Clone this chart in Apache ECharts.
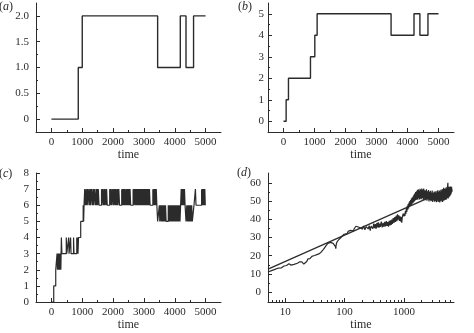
<!DOCTYPE html>
<html>
<head>
<meta charset="utf-8">
<script src="https://cdn.jsdelivr.net/npm/echarts@6/dist/echarts.min.js"></script>
<style>
  html, body { margin: 0; padding: 0; background: #fff; }
  #chart { width: 474px; height: 333px; }
</style>
</head>
<body>
<div id="chart"></div>
<script>
// ---- (a) step trace: time of each change and the level it moves to ----
const aTimes  = [0, 871, 1000, 3445, 4180, 4365, 4610, 5000];
const aValues = [0, 1, 2, 1, 2, 1, 2, 2];

// ---- (b) step trace ----
const bTimes  = [0, 85, 160, 870, 1010, 1085, 3470, 4210, 4400, 4660, 5000];
const bValues = [0, 1, 2, 3, 4, 5, 4, 5, 4, 5, 5];

// ---- (c) fast-switching trace: [time of change, new level] ----
const cSteps = [
  [0,0],[75,1],[140,2],[183,3],[196,2],[206,3],[217,2],[226,3],[238,2],[248,3],[259,2],[270,3],
  [283,2],[293,3],[306,2],[314,3],[323,4],[340,3],[482,4],[497,3],[560,4],[572,3],[622,4],[636,3],
  [718,4],[732,3],[822,4],[836,3],[850,4],[862,3],[878,4],[950,5],[1030,6],[1045,5],[1058,6],
  [1080,7],[1100,6],[1125,7],[1140,6],[1170,7],[1185,6],[1215,7],[1240,6],[1260,7],[1275,6],
  [1300,7],[1330,6],[1350,7],[1365,6],[1390,7],[1420,6],[1445,7],[1460,6],[1480,7],[1500,6],
  [1520,7],[1545,6],[1625,7],[1640,6],[1665,7],[1690,6],[1710,7],[1725,6],[1745,7],[1770,6],
  [1790,7],[1810,6],[1890,7],[1905,6],[1930,7],[1950,6],[1975,7],[2000,6],[2020,7],[2035,6],
  [2060,7],[2080,6],[2100,7],[2120,6],[2145,7],[2160,6],[2185,7],[2210,6],[2280,7],[2295,6],
  [2315,7],[2330,6],[2350,7],[2370,6],[2390,7],[2410,6],[2435,7],[2450,6],[2470,7],[2490,6],
  [2510,7],[2530,6],[2550,7],[2570,6],[2650,7],[2665,6],[2690,7],[2710,6],[2730,7],[2750,6],
  [2770,7],[2790,6],[2810,7],[2830,6],[2850,7],[2870,6],[2890,7],[2900,6],[2920,7],[2935,6],
  [2955,7],[2970,6],[2990,7],[3010,6],[3030,7],[3045,6],[3065,7],[3085,6],[3100,7],[3120,6],
  [3140,7],[3160,6],[3180,7],[3200,6],[3290,7],[3305,6],[3325,7],[3345,6],[3365,7],[3380,6],
  [3400,7],[3420,6],[3445,5],[3500,6],[3515,5],[3540,6],[3560,5],[3580,6],[3600,5],[3620,6],
  [3640,5],[3660,6],[3680,5],[3700,6],[3720,5],[3790,6],[3810,5],[3830,6],[3850,5],[3870,6],
  [3890,5],[3910,6],[3930,5],[3950,6],[3970,5],[3990,6],[4010,5],[4030,6],[4050,5],[4070,6],
  [4090,5],[4110,6],[4130,5],[4150,6],[4170,5],[4190,6],[4210,7],[4225,6],[4240,7],[4260,6],
  [4275,7],[4300,6],[4315,7],[4335,6],[4365,5],[4390,6],[4410,5],[4430,6],[4450,5],[4470,6],
  [4490,5],[4510,6],[4530,5],[4550,6],[4570,5],[4624,6],[4670,7],[4690,6],[4870,7],[4890,6],
  [4905,7],[4925,6],[4940,7],[4960,6],[4975,7],[4990,6],[5000,6]
];

// ---- (d) measured curve on a log time axis: [time, value] ----
const dPoints = [
  [5.1,11.0],[5.5,11.4],[6,11.9],[6.5,12.3],[7,12.6],[7.5,13.1],[8,13.4],[8.5,13.2],[9,13.8],[9.5,14.3],
  [10,14.1],[10.5,14.6],[11,15.2],[11.5,15.5],[12,15.1],[12.5,14.8],[13,15.0],[13.5,14.6],[14,15.2],[14.5,15.6],
  [15,15.3],[16,15.8],[16.5,15.5],[17,16.2],[17.5,16.6],[18,16.3],[18.5,16.9],[19,16.6],[19.5,17.0],[20,16.2],
  [20.5,15.4],[21,15.7],[22,15.9],[23,16.8],[24,18.2],[25,18.8],[26,18.4],[27,19.1],[28,19.6],[29,19.0],
  [30,19.4],[31,20.1],[32,20.4],[33,19.8],[34,20.6],[35,21.2],[36,20.7],[37,21.0],[38,20.4],[39,21.3],
  [40,21.9],[42,22.6],[44,23.5],[46,24.2],[48,25.3],[50,26.2],[52,26.8],[54,27.2],[56,26.6],[58,27.3],
  [60,26.9],[62,26.2],[64,26.8],[66,25.9],[68,26.4],[70,25.0],[71,23.8],[72,26.0],[74,27.4],[76,28.3],
  [78,27.7],[80,28.9],[83,29.6],[86,29.2],[89,30.4],[92,31.2],[95,30.7],[98,31.8],[100,32.4],
  [105,32.9],[110,32.1],[115,33.4],[120,32.8],[125,33.9],[130,33.2],[135,34.1],[140,33.6],[145,34.8],[150,35.3],
  [155,36.2],[160,35.4],[165,36.4],[170,35.8],[175,35.1],[180,35.9],[185,35.2],[190,36.0],[195,35.3],
  [200,34.6],[210,36.3],[220,34.2],[230,36.0],[240,36.8],[250,34.7],[260,36.5],[270,33.8],[280,36.2],[290,37.3],
  [300,34.9],[310,37.6],[320,35.2],[330,37.4],[340,34.8],[350,38.0],[360,35.6],[370,38.3],[380,35.4],[390,37.7],
  [400,35.9],[415,38.7],[430,35.5],[445,38.1],[460,35.8],[475,38.6],[490,36.1],[505,39.0],[520,36.4],[535,38.5],
  [550,35.9],[565,39.2],[580,36.7],[595,39.5],[610,36.9],[625,39.9],[640,37.5],[660,40.7],[680,38.0],[700,41.3],
  [720,38.6],[740,42.0],[760,39.0],[780,42.8],[800,39.8],[820,42.2],[840,39.1],[860,41.7],[880,38.9],[900,41.3],
  [920,38.2],[940,41.4],[960,40.8],[980,43.2],[1000,41.6],
  [1020,43.1],[1040,41.8],[1060,44.6],[1080,43.0],[1100,46.2],[1120,44.1],[1140,47.5],[1160,45.3],[1180,48.4],[1200,46.0],
  [1220,49.2],[1240,46.8],[1260,50.1],[1280,47.3],[1300,50.6],[1320,47.9],[1340,51.4],[1360,48.2],[1380,52.0],[1400,48.9],
  [1425,52.6],[1450,49.3],[1475,53.5],[1500,49.8],[1525,54.2],[1550,50.4],[1575,55.0],[1600,50.6],[1630,55.4],[1660,51.0],
  [1690,56.1],[1720,50.8],[1750,56.5],[1780,51.6],[1810,55.9],[1840,50.9],[1870,56.8],[1900,51.5],[1930,56.2],[1960,51.1],
  [2000,57.0],[2040,51.8],[2080,56.4],[2120,50.7],[2160,56.9],[2200,51.3],[2240,56.0],[2280,50.5],[2320,55.8],[2360,51.2],
  [2400,56.6],[2450,50.3],[2500,55.4],[2550,50.9],[2600,56.1],[2650,49.8],[2700,55.2],[2750,50.6],[2800,55.7],[2850,49.9],
  [2900,54.8],[2950,50.2],[3000,55.9],[3060,49.6],[3120,54.6],[3180,50.4],[3240,55.3],[3300,49.7],[3360,54.9],[3420,50.1],
  [3480,55.6],[3540,49.4],[3600,54.7],[3660,50.3],[3720,56.0],[3780,49.5],[3840,55.1],[3900,50.0],[3960,55.8],[4020,49.3],
  [4080,54.6],[4140,50.2],[4200,56.3],[4260,49.8],[4320,55.4],[4380,50.5],[4440,56.7],[4500,49.6],[4560,55.9],[4620,50.8],
  [4680,57.4],[4740,50.3],[4800,56.2],[4860,51.0],[4920,57.0],[4980,50.6],[5040,56.5],[5100,51.4],[5170,57.6],[5240,50.9],
  [5310,56.8],[5380,51.7],[5450,58.3],[5520,60.1],[5590,51.5],[5660,57.2],[5730,52.1],[5800,57.9],[5870,52.6],[5940,57.4],
  [6010,53.0],[6080,58.0],[6150,53.6],[6220,57.7],[6290,54.2],[6360,57.9],[6430,55.1],[6500,56.6]
];
// straight-line trend drawn over (d), end points
const fitTimes  = [5.1, 6500];
const fitValues = [12.6, 57.6];

// ---- tick values ----
const timeTicks   = [0, 1000, 2000, 3000, 4000, 5000];
const timeMinor   = [500, 1500, 2500, 3500, 4500];
const aYTicks     = [0, 0.5, 1, 1.5, 2];
const aYMinor     = [0.25, 0.75, 1.25, 1.75];
const bYTicks     = [0, 1, 2, 3, 4, 5];
const bYMinor     = [0.5, 1.5, 2.5, 3.5, 4.5];
const cYTicks     = [0, 1, 2, 3, 4, 5, 6, 7, 8];
const cYMinor     = [0.5, 1.5, 2.5, 3.5, 4.5, 5.5, 6.5, 7.5];
const dYTicks     = [0, 10, 20, 30, 40, 50, 60];
const dYMinor     = [5, 15, 25, 35, 45, 55];
const dXTicks     = [10, 100, 1000];
const dXMinor     = [6, 7, 8, 9, 20, 30, 40, 50, 60, 70, 80, 90,
                     200, 300, 400, 500, 600, 700, 800, 900, 2000, 3000, 4000, 5000, 6000];

const FONT = '"Liberation Serif", "Times New Roman", serif';
const INK = '#2b2b2b';
const TXT = '#2b2b2b';

const grids = [
  { left: 36,  top: 3,   width: 185, height: 129 },
  { left: 268, top: 3,   width: 186, height: 129 },
  { left: 36,  top: 173, width: 185, height: 129 },
  { left: 268, top: 173, width: 186, height: 129 }
].map(g => Object.assign({ containLabel: false, outerBoundsMode: 'none' }, g));

function xPair(gi, type, min, max, ticks, minor, fmt) {
  const base = { type, gridIndex: gi, min, max, position: 'bottom', splitLine: { show: false } };
  if (type === 'log') base.logBase = 10;
  const major = Object.assign({}, base, {
    axisLine: { show: true, onZero: false, lineStyle: { color: INK, width: 1 } },
    axisTick: { show: true, inside: true, length: 4, customValues: ticks, lineStyle: { color: INK } },
    axisLabel: { show: true, customValues: ticks, margin: 5, fontFamily: FONT, fontSize: 11, color: TXT,
                 formatter: fmt || (v => String(v)) },
    name: 'time', nameLocation: 'middle', nameGap: 15,
    nameTextStyle: { fontFamily: FONT, fontSize: 12, color: TXT }
  });
  const small = Object.assign({}, base, {
    axisLine: { show: false, onZero: false },
    axisTick: { show: true, inside: true, length: 2, customValues: minor, lineStyle: { color: INK } },
    axisLabel: { show: false }
  });
  return [major, small];
}

function yPair(gi, min, max, ticks, minor, margin, fmt) {
  const base = { type: 'value', gridIndex: gi, min, max, position: 'left', splitLine: { show: false } };
  const major = Object.assign({}, base, {
    axisLine: { show: true, onZero: false, lineStyle: { color: INK, width: 1 } },
    axisTick: { show: true, inside: true, length: 4, customValues: ticks, lineStyle: { color: INK } },
    axisLabel: { show: true, customValues: ticks, margin, fontFamily: FONT, fontSize: 11, color: TXT,
                 formatter: fmt || (v => String(v)) }
  });
  const small = Object.assign({}, base, {
    axisLine: { show: false, onZero: false },
    axisTick: { show: true, inside: true, length: 2, customValues: minor, lineStyle: { color: INK } },
    axisLabel: { show: false }
  });
  return [major, small];
}

const xAxis = [
  ...xPair(0, 'value', -500, 5500, timeTicks, timeMinor),
  ...xPair(1, 'value', -500, 5500, timeTicks, timeMinor),
  ...xPair(2, 'value', -500, 5500, timeTicks, timeMinor),
  ...xPair(3, 'log', 5.1, 7000, dXTicks, dXMinor)
];
const yAxis = [
  ...yPair(0, -0.25, 2.25, aYTicks, aYMinor, 7, v => (v === 0 ? '0' : v.toFixed(1))),
  ...yPair(1, -0.5, 5.5, bYTicks, bYMinor, 4),
  ...yPair(2, 0, 8, cYTicks, cYMinor, 7),
  ...yPair(3, -5.5, 65.5, dYTicks, dYMinor, 7)
];

const lineBase = { type: 'line', showSymbol: false, symbol: 'none', silent: true, animation: false };
function pairs(ts, vs) { return ts.map((t, i) => [t, vs[i]]); }

const series = [
  Object.assign({}, lineBase, { xAxisIndex: 0, yAxisIndex: 0, step: 'end',
    data: pairs(aTimes, aValues), lineStyle: { color: INK, width: 1.4 } }),
  Object.assign({}, lineBase, { xAxisIndex: 2, yAxisIndex: 2, step: 'end',
    data: pairs(bTimes, bValues), lineStyle: { color: INK, width: 1.4 } }),
  Object.assign({}, lineBase, { xAxisIndex: 4, yAxisIndex: 4, step: 'end',
    data: cSteps, lineStyle: { color: INK, width: 1.2 } }),
  Object.assign({}, lineBase, { xAxisIndex: 6, yAxisIndex: 6,
    data: dPoints, lineStyle: { color: INK, width: 1.2 } }),
  Object.assign({}, lineBase, { xAxisIndex: 6, yAxisIndex: 6,
    data: pairs(fitTimes, fitValues), lineStyle: { color: INK, width: 1.2 } })
];

function panelTag(letter, x, y) {
  return {
    type: 'text', x, y, silent: true,
    style: {
      text: '{p|(}{l|' + letter + '}{p|)}',
      rich: {
        p: { fontFamily: FONT, fontSize: 12, fill: TXT },
        l: { fontFamily: FONT, fontSize: 12, fontStyle: 'italic', fill: TXT }
      }
    }
  };
}

const chart = echarts.init(document.getElementById('chart'), null, { renderer: 'canvas' });
chart.setOption({
  backgroundColor: '#fff',
  animation: false,
  grid: grids,
  xAxis,
  yAxis,
  series,
  graphic: [
    panelTag('a', -1, 1),
    panelTag('b', 238, 1),
    panelTag('c', -1, 168),
    panelTag('d', 237, 167)
  ]
});
</script>
</body>
</html>
